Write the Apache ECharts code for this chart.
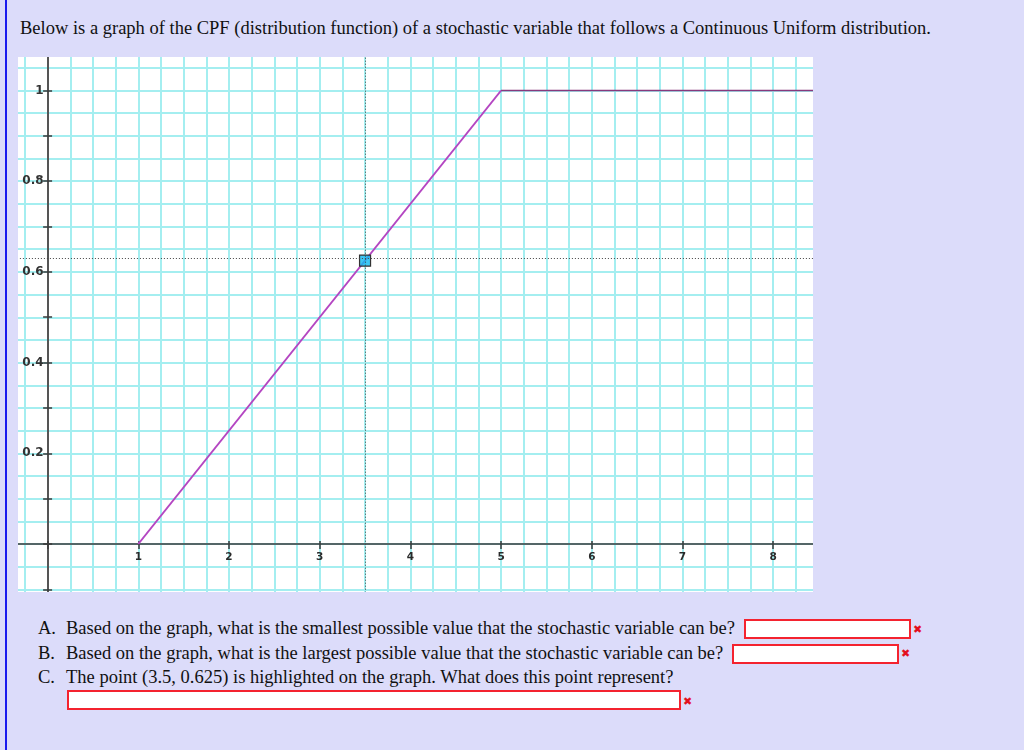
<!DOCTYPE html>
<html>
<head>
<meta charset="utf-8">
<script src="https://cdn.jsdelivr.net/npm/echarts@6/dist/echarts.min.js"></script>
<style>
html,body{margin:0;padding:0;width:1024px;height:750px;overflow:hidden;background:#dcdcfa;}
#leftbar{position:absolute;left:5px;top:0;width:2px;height:750px;background:#1a1aee;}
.t{position:absolute;font-family:"Liberation Serif","Times New Roman",serif;color:#111;white-space:nowrap;line-height:1;font-size:18.5px;}
#panel{position:absolute;left:18px;top:57px;width:795px;height:535px;overflow:hidden;background:#fff;}
#chart{position:absolute;left:-118px;top:-157px;width:1224px;height:950px;}
.box{position:absolute;box-sizing:border-box;border:2px solid #f4232f;background:#fff;height:20px;}
.x{position:absolute;color:#e3101e;font-family:"DejaVu Sans",sans-serif;font-size:11px;line-height:1;font-weight:bold;}
</style>
</head>
<body>
<div id="leftbar"></div>
<div class="t" style="left:20px;top:18.5px;">Below is a graph of the CPF (distribution function) of a stochastic variable that follows a Continuous Uniform distribution.</div>
<div id="panel"><div id="chart"></div></div>

<div class="t" style="left:38px;top:619px;">A.</div>
<div class="t" style="left:66px;top:619px;">Based on the graph, what is the smallest possible value that the stochastic variable can be?</div>
<div class="box" style="left:744px;top:619px;width:167px;"></div>
<div class="x" style="left:913px;top:624px;">&#10006;</div>

<div class="t" style="left:38px;top:643.5px;">B.</div>
<div class="t" style="left:66px;top:643.5px;">Based on the graph, what is the largest possible value that the stochastic variable can be?</div>
<div class="box" style="left:732px;top:644px;width:167px;"></div>
<div class="x" style="left:901px;top:648px;">&#10006;</div>

<div class="t" style="left:38px;top:667.5px;">C.</div>
<div class="t" style="left:66px;top:667.5px;">The point (3.5, 0.625) is highlighted on the graph. What does this point represent?</div>
<div class="box" style="left:67px;top:690px;width:614px;"></div>
<div class="x" style="left:683px;top:696px;">&#10006;</div>

<script>
// ---- data ----
const xDomain = [-1, 9];
const yDomain = [-0.2, 1.2];
const rampX = [1, 5];
const rampY = [0, 1];
const flatX = [5, 9];
const flatY = [1, 1];
const highlightPoint = [3.5, 0.625];
const xTickLabels = ['1', '2', '3', '4', '5', '6', '7', '8'];
const yTickLabels = ['0.2', '0.4', '0.6', '0.8', '1'];

function fmtNum(v) { return String(Math.round(v * 1000) / 1000); }

const rampData = rampX.map((x, i) => [x, rampY[i]]);
const flatData = flatX.map((x, i) => [x, flatY[i]]);

// grid box (inside the chart div)
const G = {left: 56.9, top: 99.8, width: 907, height: 634.9};
// move axes from the grid edge onto the origin (negative offset = inward)
const yAxisOffset = -((0 - xDomain[0]) / (xDomain[1] - xDomain[0])) * G.width;
const xAxisOffset = -((0 - yDomain[0]) / (yDomain[1] - yDomain[0])) * G.height;

const axisColor = '#3a3a3a';
const gridColor = '#a4eef0';

const chart = echarts.init(document.getElementById('chart'), null, {renderer: 'canvas'});
chart.setOption({
  animation: false,
  grid: {left: G.left, top: G.top, width: G.width, height: G.height, containLabel: false, outerBoundsMode: 'none'},
  xAxis: [
    {
      type: 'value', min: xDomain[0], max: xDomain[1], interval: 1, position: 'bottom', offset: xAxisOffset,
      axisLine: {show: true, onZero: false, lineStyle: {color: axisColor, width: 1.5}},
      axisTick: {show: true, length: 5, lineStyle: {color: axisColor, width: 1.5}},
      axisLabel: {
        show: true, margin: 8, color: '#2a2a2a', fontSize: 10.5, fontWeight: 'bold',
        fontFamily: '"DejaVu Sans", sans-serif',
        formatter: v => xTickLabels.includes(fmtNum(v)) ? fmtNum(v) : ''
      },
      splitLine: {show: false}
    },
    {
      type: 'value', min: xDomain[0], max: xDomain[1], interval: 1, position: 'bottom', offset: xAxisOffset,
      axisLine: {show: false, onZero: false},
      axisTick: {show: true, inside: true, length: 3, lineStyle: {color: axisColor, width: 1.5}},
      axisLabel: {show: false},
      splitLine: {show: false}
    },
    {
      type: 'value', min: xDomain[0], max: xDomain[1], interval: 0.25, position: 'bottom',
      axisLine: {show: false, onZero: false}, axisTick: {show: false}, axisLabel: {show: false},
      splitLine: {show: true, lineStyle: {color: gridColor, width: 2}}
    }
  ],
  yAxis: [
    {
      type: 'value', min: yDomain[0], max: yDomain[1], interval: 0.1, position: 'left', offset: yAxisOffset,
      axisLine: {show: true, onZero: false, lineStyle: {color: '#555', width: 2}},
      axisTick: {show: true, length: 4.5, lineStyle: {color: axisColor, width: 1.5}},
      axisLabel: {
        show: true, margin: 4, color: '#333', fontSize: 12, fontWeight: 'bold',
        fontFamily: '"DejaVu Sans", sans-serif',
        formatter: v => yTickLabels.includes(fmtNum(v)) ? fmtNum(v) : ''
      },
      splitLine: {show: false}
    },
    {
      type: 'value', min: yDomain[0], max: yDomain[1], interval: 0.1, position: 'left', offset: yAxisOffset,
      axisLine: {show: false, onZero: false},
      axisTick: {show: true, inside: true, length: 4.5, lineStyle: {color: axisColor, width: 1.5}},
      axisLabel: {show: false},
      splitLine: {show: false}
    },
    {
      type: 'value', min: yDomain[0], max: yDomain[1], interval: 0.05, position: 'left',
      axisLine: {show: false, onZero: false}, axisTick: {show: false}, axisLabel: {show: false},
      splitLine: {show: true, lineStyle: {color: gridColor, width: 2}}
    }
  ],
  series: [
    {
      type: 'line', xAxisIndex: 0, yAxisIndex: 0, data: rampData, symbol: 'none', z: 3,
      lineStyle: {color: '#b446c2', width: 2},
      markLine: {
        silent: true, symbol: ['none', 'none'], label: {show: false},
        lineStyle: {color: '#444', width: 1, type: [1, 2]},
        data: [{xAxis: highlightPoint[0]}, {yAxis: highlightPoint[1]}]
      }
    },
    {
      type: 'line', xAxisIndex: 0, yAxisIndex: 0, data: flatData, symbol: 'none', z: 3,
      lineStyle: {color: '#87397c', width: 1.5}
    },
    {
      type: 'scatter', xAxisIndex: 0, yAxisIndex: 0, data: [highlightPoint], symbol: 'rect', symbolSize: 11, z: 4,
      itemStyle: {color: 'rgba(20,185,240,0.82)', borderColor: '#333', borderWidth: 1.2, opacity: 1}
    }
  ]
});
</script>
</body>
</html>
